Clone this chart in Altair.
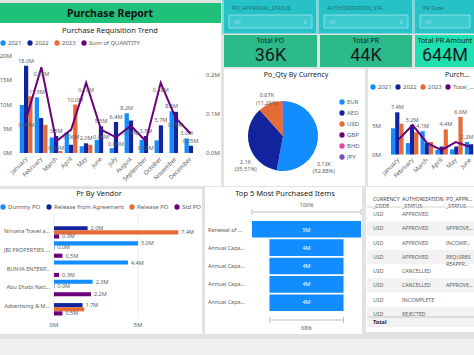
import altair as alt
import pandas as pd

FONT = "Noto Sans"
DARK = "#252423"
GREY = "#605E5C"
BLUE, NAVY, ORANGE, PURPLE, PINK, VIOLET = "#118DFF", "#12239E", "#E66C37", "#6B007B", "#E044A7", "#744EC2"
WHITE = "#FFFFFF"
BG = "#E2E2E2"
HEADER_GREEN = "#1FC07A"
KPI_GREEN = "#2BBA8B"
KPI_MINT = "#1FE0B0"
TEAL = "#26C2C8"

# ---------------- data ----------------
report_title = "Purchase Report"
slicer_titles = ["PO_APPROVAL_STATUS", "AUTHORIZATION_STATUS", "PR Date"]
slicer_values = ["All", "All", "All"]
kpi_titles = ["Total PO", "Total PR", "Total PR Amount"]
kpi_values = ["36K", "44K", "644M"]

trend_title = "Purchase Requisition Trend"
months = ["January", "February", "March", "April", "May", "June", "July",
          "August", "September", "October", "November", "December"]
years = ["2021", "2022", "2023"]
trend_2021 = [9.9, 11.5, 3.2, 4.2, 1.4, 2.7, 1.0, 8.2, 2.7, 2.6, 8.6, 3.0]
trend_2022 = [18.0, 7.2, 3.5, 1.7, 2.0, 5.5, 6.4, 6.7, 3.5, 5.7, 8.5, 1.5]
trend_2023 = [11.7, 5.8, 0.4, 10.0, 1.7, None, None, None, None, None, None, None]
trend_qty_name = "Sum of QUANTITY"
trend_qty = [0.09, 0.22, 0.03, 0.06, 0.18, 0.06, 0.04, 0.07, 0.03, 0.18, 0.09, 0.05]
trend_left_ticks = [0, 5, 10, 15, 20]
trend_right_ticks = [0.0, 0.1, 0.2]

amt_title = "Purchase Requisition Amount Trend"
amt_months = months[:6]
amt_2021 = [4.6, 2.0, 4.1, 0.8, 0.9, 2.2]
amt_2022 = [7.4, 5.2, 2.0, 1.4, 1.4, 1.8]
amt_2023 = [5.4, 3.9, 2.2, 4.4, 6.6, None]
amt_qty_name = "Total_PR_Quantity"
amt_qty = [0.055, 0.109, 0.044, 0.018, 0.047, 0.029]
amt_ticks = [0, 5]

pie_title = "Po_Qty By Currency"
currencies = ["EUR", "AED", "USD", "GBP", "BHD", "JPY"]
currency_qty = [3.130, 2.102, 0.668, 0.010, 0.005, 0.004]

vendor_title = "Pr By Vendor"
vendors = ["Nirvana Travel a...", "JBI PROPERTIES ...", "BUNYA ENTERP...",
           "Abu Dhabi Nati...", "Advertising & M..."]
po_types = ["Dummy PO", "Release from Agreement", "Release PO", "Std PO"]
vendor_dummy = [None, 5.0, 4.4, 2.3, None]
vendor_agreement = [2.0, 0.02, None, 0.02, 1.7]
vendor_release = [7.4, None, None, None, 1.8]
vendor_std = [0.3, 0.5, 0.3, 2.2, 0.5]
vendor_ticks = [0, 5]
vendor_hidden_labels = [("Advertising & M...", "Release PO")]

top_title = "Top 5 Most Purchased Items"
top_items = ["Renewal of ...", "Annual Capa...", "Annual Capa...", "Annual Capa...", "Annual Capa..."]
top_values = [5.4, 3.67, 3.67, 3.67, 3.67]

table_columns = ["CURRENCY\n_CODE", "AUTHORIZATION\n_STATUS", "PO_APPROVAL\n_STATUS"]
table_currency = ["USD"] * 8
table_auth = ["APPROVED", "APPROVED", "APPROVED", "APPROVED",
              "CANCELLED", "CANCELLED", "INCOMPLETE", "REJECTED"]
table_po = ["", "APPROVED-", "INCOMPLET", "REQUIRES\nREAPPROVA", "", "APPROVED-", "", ""]
table_total = "Total"

# ---------------- helpers ----------------
one = pd.DataFrame({"k": [0]})


def box(x0, y0, x1, y1, fill, stroke=None, sw=0.0):
    kw = dict(fill=fill)
    if stroke:
        kw.update(stroke=stroke, strokeWidth=sw)
    return alt.Chart(one).mark_rect(**kw).encode(
        x=alt.value(x0), x2=alt.value(x1), y=alt.value(y0), y2=alt.value(y1))


def hline(x0, x1, y, color, sw=1.0):
    return alt.Chart(one).mark_rule(color=color, strokeWidth=sw).encode(
        x=alt.value(x0), x2=alt.value(x1), y=alt.value(y))


def txt(text, x, y, size=7.0, color=GREY, align="center", weight="normal", font=FONT, limit=0):
    kw = dict(fontSize=size, color=color, align=align, fontWeight=weight, font=font,
              baseline="middle", lineBreak="\n")
    if limit:
        kw["limit"] = limit
    return alt.Chart(pd.DataFrame({"t": [text]})).mark_text(**kw).encode(
        x=alt.value(x), y=alt.value(y), text="t:N")


def legend(x, y, direction="horizontal", colpad=5, **kw):
    return alt.Legend(orient="none", legendX=x, legendY=y, direction=direction, title=None,
                      symbolType="circle", symbolSize=28, labelFontSize=6, labelColor=GREY,
                      labelFont=FONT, columnPadding=colpad, labelOffset=2, padding=0,
                      symbolStrokeWidth=0, **kw)


layers = []

# ---------------- panels ----------------
layers += [
    box(0, 3, 221, 23, HEADER_GREEN),
    box(0, 23, 221, 186, WHITE),
    box(222, 0, 474, 34, "#7FD8DB"),
    box(224, 0, 316, 33, TEAL), box(319, 0, 412, 33, TEAL), box(415, 0, 474, 33, TEAL),
    box(224, 35, 317, 67, KPI_GREEN), box(320, 35, 412, 67, KPI_GREEN), box(415, 35, 474, 67, KPI_MINT),
    box(224, 69, 365, 186, WHITE),
    box(368, 69, 474, 186, WHITE),
    box(0, 189, 202, 334, WHITE),
    box(205, 187, 362, 334, WHITE),
    box(366, 187, 474, 332, WHITE),
    box(0, 339, 474, 355, "#EFEFEF"),
]

# header / titles
layers.append(txt(report_title, 110, 13.5, 10.5, "#111111", weight="bold"))
layers.append(txt(trend_title, 110, 31, 7.5, DARK))
layers.append(txt(pie_title, 296, 75, 7, DARK))
layers.append(txt(amt_title, 445, 75, 7, DARK, align="left", limit=28))
layers.append(txt(vendor_title, 99, 193.5, 7.5, DARK))
layers.append(txt(top_title, 285, 193.5, 7.5, DARK))

# slicers
for (x0, x1), title, val in zip([(224, 316), (319, 412), (415, 474)], slicer_titles, slicer_values):
    layers.append(txt(title if len(title) < 19 else title[:17] + "..", x0 + 8, 7.5, 5.5, "#1E6E72", align="left"))
    layers.append(box(x0 + 5, 15, min(x1 - 4, 476), 28, "#3DCBD0", "#A2E6E8", 0.8))
    layers.append(txt(val, x0 + 10, 21.5, 5.5, "#9BE3E5", align="left"))
    if x1 < 474:
        layers.append(txt("\u2228", x1 - 11, 21.5, 5.5, "#9BE3E5"))

# KPI cards
for cx, t, v in zip([270.5, 366, 445], kpi_titles, kpi_values):
    layers.append(txt(t, cx, 40.5, 7, "#1A1A1A"))
    layers.append(txt(v, cx, 56, 18, "#1A1A1A", font="Roboto"))

# ---------------- trend chart ----------------
trend_long = pd.DataFrame({
    "month": months * 3,
    "year": [y for y in years for _ in months],
    "value": trend_2021 + trend_2022 + trend_2023,
}).dropna()
trend_line = pd.DataFrame({"month": months, "qty": trend_qty, "i": range(len(months))})

mx = alt.Scale(domain=months, range=[19, 198], paddingInner=0.15, paddingOuter=0.05)
ly = alt.Scale(domain=[0, 20], range=[153, 56], nice=False, zero=False)
ry = alt.Scale(domain=[0, 0.2], range=[153, 75], nice=False, zero=False)
TX = alt.X("month:N", scale=mx, axis=None)
TXO = alt.XOffset("year:N", scale=alt.Scale(domain=years))
TY = alt.Y("value:Q", scale=ly, axis=None)

layers.append(alt.Chart(trend_long).mark_bar().encode(
    x=TX, xOffset=TXO, y=TY,
    color=alt.Color("year:N", scale=alt.Scale(domain=years + [trend_qty_name],
                                              range=[BLUE, NAVY, ORANGE, PURPLE]),
                    legend=legend(0, 40))))
layers.append(alt.Chart(trend_long).transform_joinaggregate(top="max(value)", groupby=["month"])
              .transform_filter("datum.value == datum.top")
              .transform_calculate(t="format(datum.value, '.1f') + 'M'")
              .mark_text(fontSize=5.5, color=GREY, baseline="bottom", dy=-2)
              .encode(x=TX, xOffset=TXO, y=TY, text="t:N"))
layers.append(alt.Chart(trend_line).mark_line(color=PURPLE, strokeWidth=2).encode(
    x=TX, y=alt.Y("qty:Q", scale=ry, axis=None), order="i:Q"))
layers.append(alt.Chart(trend_line).transform_calculate(t="format(datum.qty, '.2f') + 'M'")
              .mark_text(fontSize=5.5, color=GREY, baseline="top", dy=5)
              .encode(x=TX, y=alt.Y("qty:Q", scale=ry, axis=None), text="t:N"))
layers.append(alt.Chart(pd.DataFrame({"v": trend_left_ticks}))
              .transform_calculate(t="datum.v + 'M'")
              .mark_text(fontSize=6, color=GREY, align="right", baseline="middle")
              .encode(x=alt.value(12), y=alt.Y("v:Q", scale=ly, axis=None), text="t:N"))
layers.append(alt.Chart(pd.DataFrame({"v": trend_right_ticks}))
              .transform_calculate(t="format(datum.v, '.1f') + 'M'")
              .mark_text(fontSize=6, color=GREY, align="left", baseline="middle")
              .encode(x=alt.value(206), y=alt.Y("v:Q", scale=ry, axis=None), text="t:N"))
layers.append(alt.Chart(pd.DataFrame({"month": months}))
              .mark_text(fontSize=6, color=GREY, align="right", baseline="middle", angle=315)
              .encode(x=TX, y=alt.value(158), text="month:N"))

# ---------------- amount trend (right) ----------------
amt_long = pd.DataFrame({
    "month": amt_months * 3,
    "year": [y for y in years for _ in amt_months],
    "value": amt_2021 + amt_2022 + amt_2023,
}).dropna()
amt_line = pd.DataFrame({"month": amt_months, "qty": amt_qty, "i": range(len(amt_months))})
mx2 = alt.Scale(domain=amt_months, range=[391, 477.4], paddingInner=0.15, paddingOuter=0)
ay = alt.Scale(domain=[0, 5], range=[154.5, 126], nice=False, zero=False)
aqy = alt.Scale(domain=[0, 0.2], range=[155, 100], nice=False, zero=False)
AX = alt.X("month:N", scale=mx2, axis=None)
AXO = alt.XOffset("year:N", scale=alt.Scale(domain=years))
AY = alt.Y("value:Q", scale=ay, axis=None)

layers.append(alt.Chart(amt_long).mark_bar().encode(
    x=AX, xOffset=AXO, y=AY,
    color=alt.Color("year:N", scale=alt.Scale(domain=years + [amt_qty_name],
                                              range=[BLUE, NAVY, ORANGE, PURPLE]),
                    legend=legend(370, 84, colpad=3, labelLimit=22))))
layers.append(alt.Chart(amt_long).transform_joinaggregate(top="max(value)", groupby=["month"])
              .transform_filter("datum.value == datum.top")
              .transform_calculate(t="format(datum.value, '.1f') + 'M'")
              .mark_text(fontSize=5.5, color=GREY, baseline="bottom", dy=-2)
              .encode(x=AX, xOffset=AXO, y=AY, text="t:N"))
layers.append(alt.Chart(amt_line).mark_line(color=PURPLE, strokeWidth=2).encode(
    x=AX, y=alt.Y("qty:Q", scale=aqy, axis=None), order="i:Q"))
layers.append(alt.Chart(pd.DataFrame({"v": amt_ticks}))
              .transform_calculate(t="datum.v + 'M'")
              .mark_text(fontSize=6, color=GREY, align="right", baseline="middle")
              .encode(x=alt.value(381), y=alt.Y("v:Q", scale=ay, axis=None), text="t:N"))
layers.append(alt.Chart(pd.DataFrame({"month": amt_months}))
              .mark_text(fontSize=6, color=GREY, align="right", baseline="middle", angle=315)
              .encode(x=AX, y=alt.value(159), text="month:N"))

# ---------------- pie ----------------
CX, CY = 283, 136
pie_df = pd.DataFrame({"currency": currencies, "qty": currency_qty, "idx": range(len(currencies))})
layers.append(alt.Chart(pie_df).mark_arc(outerRadius=35).encode(
    theta=alt.Theta("qty:Q", stack=True),
    order=alt.Order("idx:Q"),
    color=alt.Color("currency:N", scale=alt.Scale(domain=currencies,
                                                  range=[BLUE, NAVY, ORANGE, PURPLE, PINK, VIOLET]),
                    legend=legend(339, 99, direction="vertical", rowPadding=5)),
    x=alt.value(CX), y=alt.value(CY)))


def pie_base():
    return (alt.Chart(pie_df)
            .transform_joinaggregate(total="sum(qty)")
            .transform_window(cum="sum(qty)", sort=[alt.SortField("idx")], frame=[None, 0])
            .transform_calculate(ang="2*PI*(datum.cum - datum.qty/2)/datum.total",
                                 t="format(datum.qty, '.2~f') + 'K\\n(' + format(datum.qty/datum.total, '.2%') + ')'"))


def pie_label(cur, dx, dy):
    return (pie_base().transform_filter(alt.datum.currency == cur)
            .mark_text(radius=44, dx=dx, dy=dy, fontSize=5.5, color=GREY, lineBreak="\n", baseline="middle")
            .encode(x=alt.value(CX), y=alt.value(CY), theta=alt.Theta("ang:Q", scale=None), text="t:N"))


layers += [pie_label("EUR", -3, 24), pie_label("AED", 5, 14), pie_label("USD", 0, 0)]

# ---------------- vendor chart ----------------
vendor_long = pd.DataFrame({
    "vendor": vendors * 4,
    "type": [p for p in po_types for _ in vendors],
    "value": vendor_dummy + vendor_agreement + vendor_release + vendor_std,
}).dropna()
vendor_long["show"] = [(v, p) not in vendor_hidden_labels for v, p in zip(vendor_long.vendor, vendor_long.type)]
vy = alt.Scale(domain=vendors, range=[222, 315.5], paddingInner=0.14, paddingOuter=0)
vx = alt.Scale(domain=[0, 5], range=[54, 138], nice=False, zero=False)
VY = alt.Y("vendor:N", scale=vy, axis=None)
VYO = alt.YOffset("type:N", scale=alt.Scale(domain=po_types))
VX = alt.X("value:Q", scale=vx, axis=None)

layers.append(alt.Chart(pd.DataFrame({"v": vendor_ticks})).mark_rule(color="#EDEDED").encode(
    x=alt.X("v:Q", scale=vx, axis=None), y=alt.value(214), y2=alt.value(318)))
layers.append(alt.Chart(vendor_long).mark_bar().encode(
    x=VX, y=VY, yOffset=VYO,
    color=alt.Color("type:N", scale=alt.Scale(domain=po_types, range=[BLUE, NAVY, ORANGE, PURPLE]),
                    legend=legend(0, 204))))
layers.append(alt.Chart(vendor_long).transform_filter("datum.show")
              .transform_calculate(t="format(datum.value, '.1f') + 'M'")
              .mark_text(fontSize=5.5, color=GREY, align="left", baseline="middle", dx=3)
              .encode(x=VX, y=VY, yOffset=VYO, text="t:N"))
layers.append(alt.Chart(pd.DataFrame({"vendor": vendors}))
              .mark_text(fontSize=5.5, color=GREY, align="right", baseline="middle")
              .encode(x=alt.value(50), y=VY, text="vendor:N"))
layers.append(alt.Chart(pd.DataFrame({"v": vendor_ticks}))
              .transform_calculate(t="datum.v + 'M'")
              .mark_text(fontSize=6, color=GREY, baseline="middle")
              .encode(x=alt.X("v:Q", scale=vx, axis=None), y=alt.value(325), text="t:N"))

# ---------------- funnel ----------------
top_df = pd.DataFrame({"rank": range(len(top_items)), "item": top_items, "value": top_values})
half = max(top_values) / 2
fy = alt.Scale(domain=list(range(len(top_items))), range=[221, 311], paddingInner=0.1, paddingOuter=0)
fx = alt.Scale(domain=[-half, half], range=[252, 361], nice=False, zero=False)
FY = alt.Y("rank:O", scale=fy, axis=None)
fbase = alt.Chart(top_df).transform_calculate(lo="-datum.value/2", hi="datum.value/2", mid="0") \
    .transform_joinaggregate(mx="max(value)") \
    .transform_calculate(pct="round(datum.value/datum.mx*100) + '%'")
layers.append(fbase.mark_bar(color=BLUE).encode(
    x=alt.X("lo:Q", scale=fx, axis=None), x2="hi:Q", y=FY))
layers.append(fbase.transform_calculate(t="format(datum.value, '.0f') + 'M'")
              .mark_text(fontSize=5.5, color=WHITE, baseline="middle")
              .encode(x=alt.X("mid:Q", scale=fx, axis=None), y=FY, text="t:N"))
layers.append(alt.Chart(top_df).mark_text(fontSize=5.5, color=GREY, align="left", baseline="middle")
              .encode(x=alt.value(208), y=FY, text="item:N"))
for rk, yb, yl in [(0, 212, 205), (len(top_items) - 1, 320, 328)]:
    sel = fbase.transform_filter(alt.datum.rank == rk)
    layers.append(sel.mark_rule(color="#BDBDBD").encode(
        x=alt.X("lo:Q", scale=fx, axis=None), x2="hi:Q", y=alt.value(yb)))
    layers.append(sel.transform_fold(["lo", "hi"], as_=["end", "pos"]).mark_rule(color="#D9B8B8").encode(
        x=alt.X("pos:Q", scale=fx, axis=None), y=alt.value(yb - 3), y2=alt.value(yb + 3)))
    layers.append(sel.mark_text(fontSize=5.5, color=GREY, baseline="middle").encode(
        x=alt.X("mid:Q", scale=fx, axis=None), y=alt.value(yl), text="pct:N"))

# ---------------- table ----------------
table_df = pd.DataFrame({"row": range(len(table_auth)), "cur": table_currency,
                         "auth": table_auth, "po": table_po})
ty = alt.Scale(domain=list(range(len(table_auth))), range=[207, 321], paddingInner=0, paddingOuter=0)
TYR = alt.Y("row:O", scale=ty, axis=None)
layers.append(alt.Chart(table_df).transform_filter("datum.row % 2 == 1").mark_rect(fill="#F2F2F2").encode(
    y=TYR, x=alt.value(367), x2=alt.value(474)))
for col, x, lim in zip(["cur", "auth", "po"], [373, 402, 446], [0, 0, 27]):
    kw = dict(fontSize=5.2, color=GREY, align="left", baseline="middle", lineBreak="\n")
    if lim:
        kw.update(limit=lim, ellipsis="")
    layers.append(alt.Chart(table_df).mark_text(**kw).encode(x=alt.value(x), y=TYR, text=f"{col}:N"))
for head, x, lim in zip(table_columns, [373, 402, 446], [0, 0, 27]):
    layers.append(txt(head, x, 199, 5.2, "#444444", align="left", limit=lim))
layers.append(hline(367, 474, 207, "#C8C8C8", 0.8))
layers.append(box(367, 317, 474, 327, "#F2F2F2"))
layers.append(hline(367, 474, 317, "#BBBBBB", 0.8))
layers.append(txt(table_total, 373, 322, 5.5, "#252423", align="left", weight="bold"))

chart = alt.layer(*layers).resolve_scale(
    x="independent", y="independent", color="independent",
    xOffset="independent", yOffset="independent", theta="independent"
).properties(
    width=474, height=355, padding=0, background=BG,
    autosize=alt.AutoSizeParams(type="none")
).configure(font=FONT).configure_view(stroke=None)

chart.save("out.html", embed_options={"renderer": "svg", "actions": False})
